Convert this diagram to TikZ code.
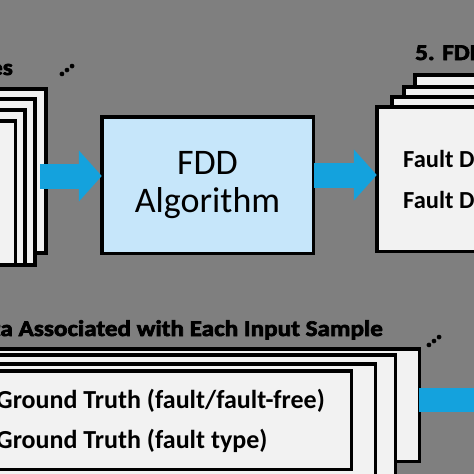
\documentclass[tikz,border=0pt]{standalone}
\usepackage{fontspec}
\setmainfont{Carlito}
\newfontfamily\titlefont[FakeBold=3, FakeStretch=1.12]{Carlito Bold}
\newfontfamily\dotfont[FakeBold=4]{Carlito Bold}
\newfontfamily\boldfont{Carlito Bold}
\usetikzlibrary{arrows.meta}
\definecolor{bg}{HTML}{7F7F7F}
\definecolor{cardfill}{HTML}{F2F2F2}
\definecolor{fddfill}{HTML}{C6E6FA}
\definecolor{arrowblue}{HTML}{14A2DD}
\begin{document}
\begin{tikzpicture}[x=1pt,y=-1pt,
  card/.style={draw=black, line width=3.5pt, fill=cardfill, anchor=north west, inner sep=0pt, outer sep=0pt},
  fddbox/.style={draw=black, line width=3.5pt, fill=fddfill, anchor=north west, inner sep=0pt, outer sep=0pt},
  bigarrow/.style={draw=arrowblue, line width=25pt, -{Triangle[length=23pt,width=50pt]}},
  title/.style={font=\titlefont\fontsize{22.5}{26}\selectfont, inner sep=0pt},
  cardtext/.style={inner sep=0pt},
  dots/.style={font=\dotfont\fontsize{24}{26}\selectfont, inner sep=0pt, rotate=38}]
\useasboundingbox (0,0) rectangle (474,474);
\fill[bg] (0,0) rectangle (474,474);
\clip (0,0) rectangle (474,474);

% left stack
\node[card, minimum width=66pt, minimum height=164pt] (l1) at (-20,89) {};
\node[card, minimum width=55pt, minimum height=166pt] (l2) at (-20,99) {};
\node[card, minimum width=45pt, minimum height=155pt] (l3) at (-20,110) {};
\node[card, minimum width=35.5pt, minimum height=144pt] (l4) at (-20,121) {};
\node[title, anchor=base east] (ltitle) at (13,75) {Samples};
\node[dots] (ldots) at (67,70) {...};

% FDD box
\node[fddbox, minimum width=211.5pt, minimum height=136.5pt] (fdd) at (101.75,116.75) {};
\node[align=center, font=\fontsize{36}{38}\selectfont, inner sep=0pt] (fddtext) at (fdd.center) {FDD\\Algorithm};

% right stack
\node[card, minimum width=100pt, minimum height=120pt] (r4) at (414.75,74.75) {};
\node[card, minimum width=100pt, minimum height=120pt] (r3) at (403.75,86.75) {};
\node[card, minimum width=100pt, minimum height=120pt] (r2) at (391.75,96.75) {};
\node[card, minimum width=130pt, minimum height=144.5pt] (r1) at (376.75,106.75) {};
\node[title, anchor=base west] (rtitle) at (415,60) {5. FDD};
\node[cardtext, anchor=base west, font=\boldfont\fontsize{24.5}{28}\selectfont] (rt1) at (403,167) {Fault Detection};
\node[cardtext, anchor=base west, font=\boldfont\fontsize{24.5}{28}\selectfont] (rt2) at (403,208) {Fault Diagnosis};

% bottom stack
\node[card, minimum width=439.25pt, minimum height=112.5pt] (b1) at (-20,348.75) {};
\node[card, minimum width=415.25pt, minimum height=140pt] (b2) at (-20,354.75) {};
\node[card, minimum width=395.25pt, minimum height=140pt] (b3) at (-20,363.75) {};
\node[card, minimum width=371.25pt, minimum height=98.5pt] (b4) at (-20,370.75) {};
\node[title, anchor=base east] (btitle) at (383,336) {Data Associated with Each Input Sample};
\node[dots] (bdots) at (434,341) {...};
\node[cardtext, anchor=base west, font=\boldfont\fontsize{26}{30}\selectfont] (bt1) at (-4,408) {Ground Truth (fault/fault-free)};
\node[cardtext, anchor=base west, font=\boldfont\fontsize{26}{30}\selectfont] (bt2) at (-4,448) {Ground Truth (fault type)};

% arrows
\coordinate (a1s) at (40,176);
\draw[bigarrow] (a1s) -- (a1s -| fdd.west);
\coordinate (a2s) at (314,175);
\draw[bigarrow] (a2s) -- (a2s -| r1.west);
\coordinate (a3e) at (480,400);
\draw[draw=arrowblue, line width=24pt] (a3e -| b1.east) -- (a3e);
\end{tikzpicture}
\end{document}
